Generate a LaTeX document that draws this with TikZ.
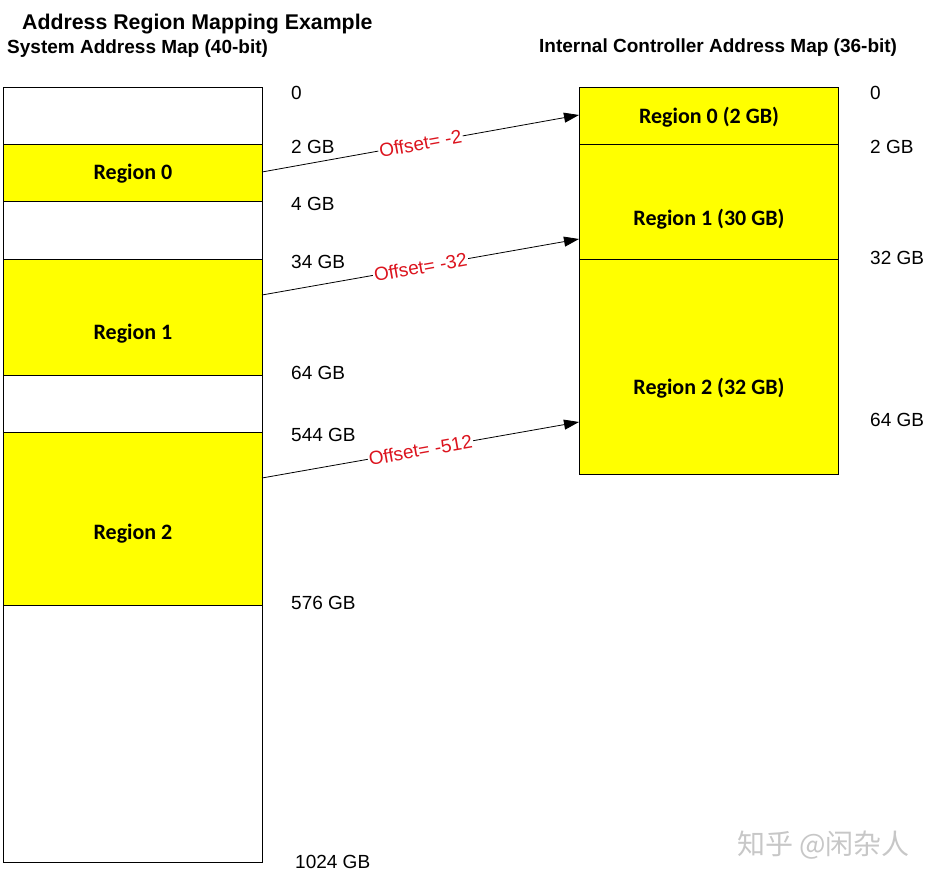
\documentclass[tikz,border=0pt]{standalone}
\usepackage{fontspec}
\setmainfont{Liberation Sans}
\newfontfamily\calib{Carlito}
\newfontfamily\cjk{Noto Sans CJK SC}
\usetikzlibrary{arrows.meta}
\definecolor{regyellow}{RGB}{255,255,0}
\definecolor{offred}{RGB}{220,20,30}
\tikzset{
  blk/.style={draw=black, line width=0.8pt, fill=white, minimum width=259pt, inner sep=0pt, anchor=north west},
  reg/.style={blk, fill=regyellow},
  rlab/.style={inner sep=0pt, font=\calib\bfseries\fontsize{22}{26}\selectfont},
  addr/.style={anchor=west, inner sep=0pt, font=\fontsize{19}{22}\selectfont},
  ttl/.style={anchor=west, inner sep=0pt, font=\bfseries\fontsize{19}{22}\selectfont},
  maparrow/.style={draw=black, line width=0.8pt, -{Triangle[length=15pt,width=10pt]}},
  offs/.style={sloped, fill=white, inner sep=1pt, text=offred, font=\fontsize{19}{22}\selectfont}
}
\begin{document}
\begin{tikzpicture}[x=1pt,y=-1pt]
\useasboundingbox (0,0) rectangle (935,882);
% titles
\node[ttl, font=\bfseries\fontsize{21.3}{25}\selectfont] (title) at (22,24) {Address Region Mapping Example};
\node[ttl] (sysT) at (7,49) {System Address Map (40-bit)};
\node[ttl] (ctlT) at (539,48) {Internal Controller Address Map (36-bit)};
% left column
\node[blk, minimum height=57pt] (g0) at (3,87) {};
\node[reg, minimum height=57pt] (r0) at (3,144) {};
\node[blk, minimum height=58pt] (g1) at (3,201) {};
\node[reg, minimum height=116pt] (r1) at (3,259) {};
\node[blk, minimum height=57pt] (g2) at (3,375) {};
\node[reg, minimum height=173pt] (r2) at (3,432) {};
\node[blk, minimum height=257pt] (g3) at (3,605) {};
\node[rlab] (r0l) at (133,174) {Region 0};
\node[rlab] (r1l) at (133,334) {Region 1};
\node[rlab] (r2l) at (133,534) {Region 2};
% right column
\node[reg, minimum height=57pt] (c0) at (579,87) {};
\node[reg, minimum height=115pt] (c1) at (579,144) {};
\node[reg, minimum height=215pt] (c2) at (579,259) {};
\node[rlab] (c0l) at (709,117) {Region 0 (2 GB)};
\node[rlab] (c1l) at (709,219) {Region 1 (30 GB)};
\node[rlab] (c2l) at (709,388) {Region 2 (32 GB)};
% left addresses
\node[addr] (a0) at (291,93) {0};
\node[addr] (a1) at (291,147) {2 GB};
\node[addr] (a2) at (291,204) {4 GB};
\node[addr] (a3) at (291,262) {34 GB};
\node[addr] (a4) at (291,373) {64 GB};
\node[addr] (a5) at (291,435) {544 GB};
\node[addr] (a6) at (291,603) {576 GB};
\node[addr] (a7) at (295,862) {1024 GB};
% right addresses
\node[addr] (b0) at (870,93) {0};
\node[addr] (b1) at (870,147) {2 GB};
\node[addr] (b2) at (870,258) {32 GB};
\node[addr] (b3) at (870,420) {64 GB};
% arrow endpoints
\coordinate (s0) at (262,172);
\coordinate (t0) at (579,115);
\coordinate (s1) at (262,295);
\coordinate (t1) at (579,239);
\coordinate (s2) at (262,478);
\coordinate (t2) at (579,422);
\draw[maparrow] (s0) -- node[offs, pos=0.5] {Offset= -2} (t0);
\draw[maparrow] (s1) -- node[offs, pos=0.5] {Offset= -32} (t1);
\draw[maparrow] (s2) -- node[offs, pos=0.5] {Offset= -512} (t2);
% watermark
\node[anchor=west, inner sep=0pt, text=black!22, font=\cjk\fontsize{28}{32}\selectfont] (wm) at (737,845) {知乎 @闲杂人};
\end{tikzpicture}
\end{document}
